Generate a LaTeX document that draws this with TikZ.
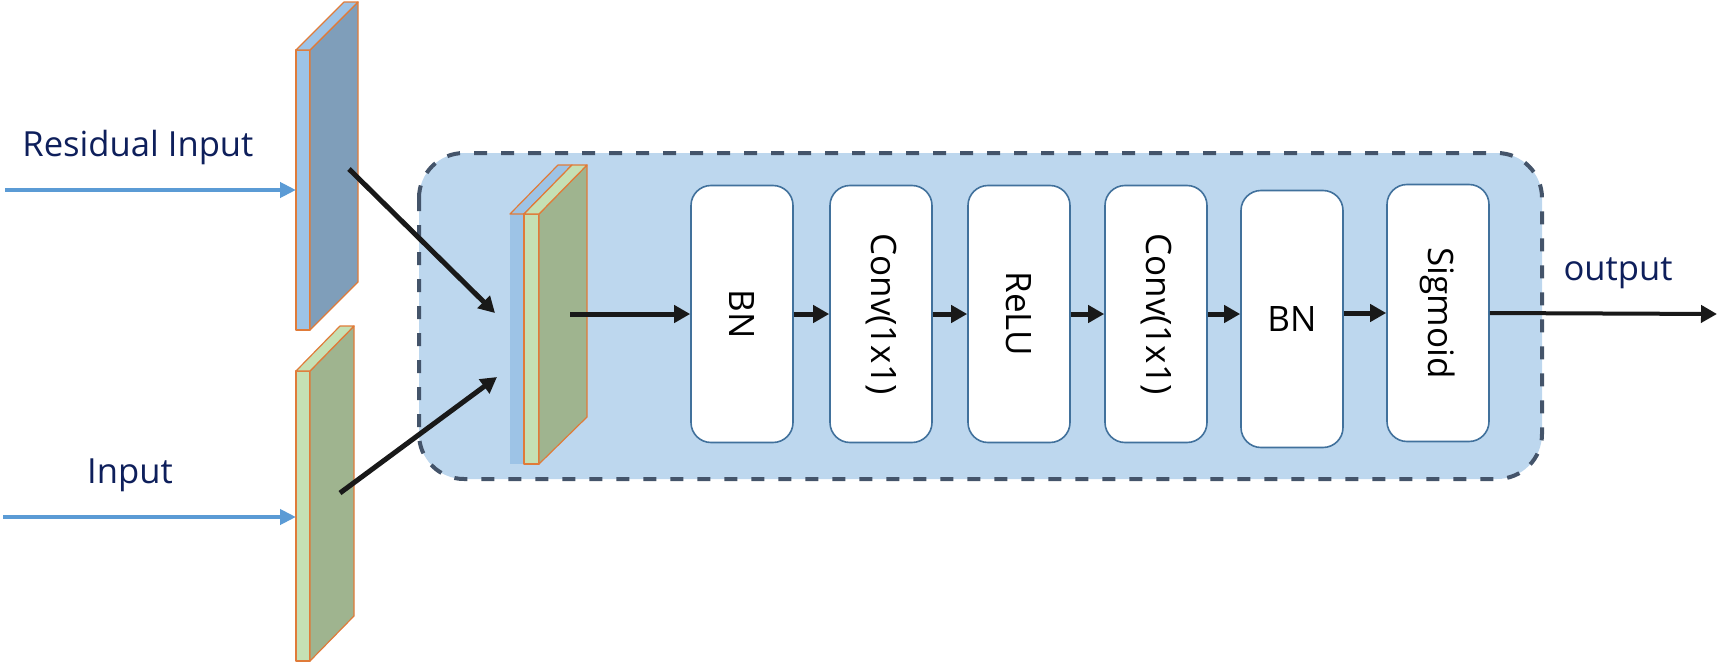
\documentclass[tikz,border=0pt]{standalone}
\usepackage{fontspec}
\setmainfont{Open Sans}
\usetikzlibrary{arrows.meta}
\definecolor{lblue}{HTML}{9DC3E6}
\definecolor{dblue}{HTML}{7F9EBA}
\definecolor{lgreen}{HTML}{C5E0B4}
\definecolor{dgreen}{HTML}{9FB48F}
\definecolor{slabedge}{HTML}{E07B39}
\definecolor{blockfill}{HTML}{BDD7EE}
\definecolor{blockedge}{HTML}{44546A}
\definecolor{boxedge}{HTML}{41719C}
\definecolor{feedblue}{HTML}{5B9BD5}
\definecolor{navy}{HTML}{0E1F5B}
\begin{document}
\begin{tikzpicture}[x=0.5pt, y=-0.5pt,
  box/.style={draw=boxedge, fill=white, line width=0.8pt, rounded corners=10pt,
              minimum width=51pt, minimum height=128.5pt, inner sep=0pt,
              font=\fontsize{17.5}{20}\selectfont},
  flow/.style={-{Triangle[length=8pt, width=8.5pt]}, line width=2.5pt, draw=black!90},
  feed/.style={-{Triangle[length=8pt, width=7.5pt]}, line width=2pt, draw=feedblue},
  lab/.style={text=navy, font=\fontsize{17.3}{20}\selectfont, inner sep=0pt},
  slab/.style={draw=slabedge, line width=0.6pt, line join=round},
]
\useasboundingbox (0,0) rectangle (1720,664);

% attention block
\draw[draw=blockedge, fill=blockfill, line width=2pt, dash pattern=on 6.5pt off 7pt,
      rounded corners=22.5pt] (419,153) rectangle (1542,479);

% residual input map
\draw[slab, fill=lblue] (296,50) rectangle (310,330);
\draw[slab, fill=dblue] (310,50) -- (358,2) -- (358,282) -- (310,330) -- cycle;
\draw[slab, fill=lblue] (296,50) -- (344,2) -- (358,2) -- (310,50) -- cycle;

% input map
\draw[slab, fill=lgreen] (296,371) rectangle (310,661);
\draw[slab, fill=dgreen] (310,371) -- (354,326) -- (354,616) -- (310,661) -- cycle;
\draw[slab, fill=lgreen] (296,371) -- (340,326) -- (354,326) -- (310,371) -- cycle;

% concatenated map
\fill[lblue] (510,214) rectangle (524,464);
\draw[slab, fill=lblue] (510,214) -- (558,165) -- (572,165) -- (524,214) -- cycle;
\draw[slab, fill=lgreen] (524,214) rectangle (539,464);
\draw[slab, fill=dgreen] (539,214) -- (587,165) -- (587,417) -- (539,464) -- cycle;
\draw[slab, fill=lgreen] (524,214) -- (572,165) -- (587,165) -- (539,214) -- cycle;

\coordinate (res-src) at (5,190);
\coordinate (res-in)  at (296,190);
\coordinate (inp-src) at (3,517);
\coordinate (inp-in)  at (296,517);
\coordinate (res)     at (349,169);
\coordinate (inp)     at (340,493);
\coordinate (cat-a)   at (495,313);
\coordinate (cat-b)   at (497,377);
\coordinate (cat)     at (570,314);
\coordinate (out)     at (1717,314);

\node[lab, anchor=base west] (res-lab) at (22,156) {Residual Input};
\node[lab, anchor=base] (inp-lab) at (130,483) {Input};
\node[lab, anchor=base] (out-lab) at (1618,280) {output};

\node[box] (bn1)   at (742,314)  {\rotatebox{-90}{BN}};
\node[box] (conv1) at (881,314)  {\rotatebox{-90}{Conv(1x1)}};
\node[box] (relu)  at (1019,314) {\rotatebox{-90}{ReLU}};
\node[box] (conv2) at (1156,314) {\rotatebox{-90}{Conv(1x1)}};
\node[box] (bn2)   at (1292,319) {BN};
\node[box] (sig)   at (1438,313) {\rotatebox{-90}{Sigmoid}};

\draw[feed] (res-src) -- (res-in);
\draw[feed] (inp-src) -- (inp-in);
\draw[flow] (res) -- (cat-a);
\draw[flow] (inp) -- (cat-b);
\draw[flow] (cat) -- (bn1.west);
\draw[flow] (bn1) -- (conv1);
\draw[flow] (conv1) -- (relu);
\draw[flow] (relu) -- (conv2);
\draw[flow] (conv2.east) -- (conv2.east -| bn2.west);
\draw[flow] (bn2.east |- sig.west) -- (sig.west);
\draw[flow, line width=2pt] (sig.east) -- (out);
\end{tikzpicture}
\end{document}
